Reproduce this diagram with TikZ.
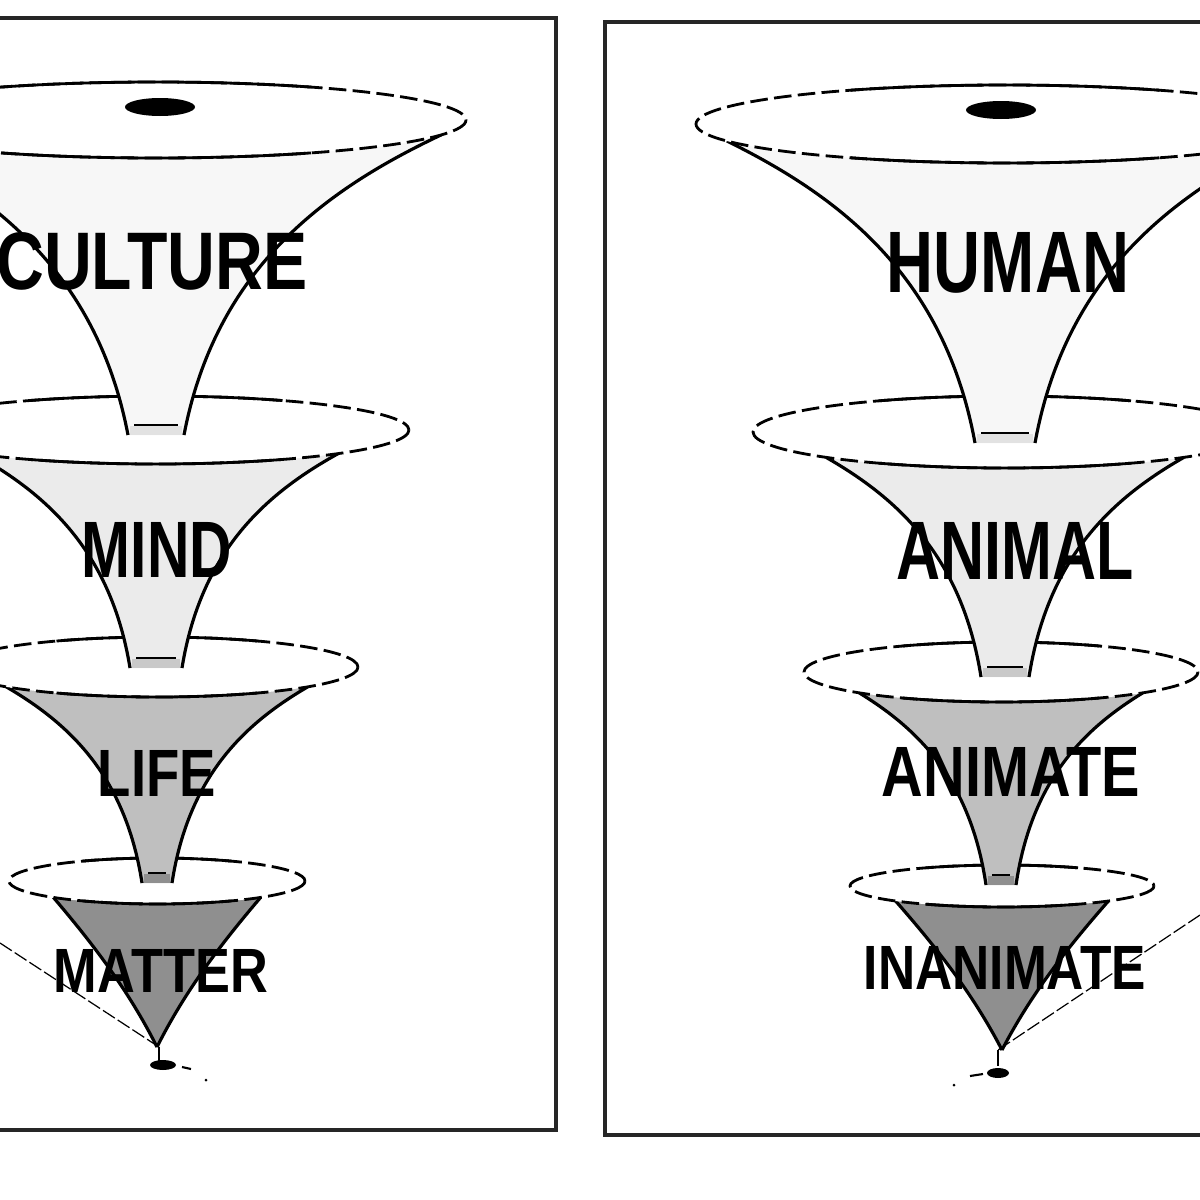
\documentclass[tikz,border=0pt]{standalone}
\usepackage{fontspec}
\setmainfont{Liberation Sans}
\definecolor{topgray}{gray}{0.97}
\definecolor{midgray}{gray}{0.92}
\definecolor{lowgray}{gray}{0.75}
\definecolor{basegray}{gray}{0.56}
\definecolor{framegray}{gray}{0.15}
\tikzset{
  rimline/.style={line width=0.8pt, dash pattern=on 5pt off 1.8pt},
  rimsolid/.style={line width=0.8pt},
  coneline/.style={line width=0.9pt, line join=round},
  panel/.style={draw=framegray, line width=1.1pt},
  level/.style={inner sep=0pt, font=\bfseries},
  thinline/.style={line width=0.35pt, dash pattern=on 4pt off 1pt},
  neckband/.style={line width=0.6pt},
}
% cone: cx, cy, rx, ry, top fraction, neck y, neck half width, fill, bend
\newcommand{\cone}[9]{%
  \pgfmathsetmacro{\topx}{#3*#5}%
  \pgfmathsetmacro{\topy}{#2+#4*sqrt(1-#5*#5)}%
  \pgfmathsetmacro{\spanx}{\topx-#7}%
  \pgfmathsetmacro{\spany}{#6-\topy}%
  \pgfmathsetmacro{\cpa}{(0.3333+0.12*#9)*\spanx}%
  \pgfmathsetmacro{\cpb}{(0.3333-0.15*#9)*\spany}%
  \pgfmathsetmacro{\cpc}{(0.3333-0.21*#9)*\spanx}%
  \pgfmathsetmacro{\cpd}{(0.3333+0.22*#9)*\spany}%
  \fill[#8] (#1+\topx,\topy) .. controls (#1+\topx-\cpa,\topy+\cpb) and (#1+#7+\cpc,#6-\cpd) .. (#1+#7,#6)
    -- (#1-#7,#6) .. controls (#1-#7-\cpc,#6-\cpd) and (#1-\topx+\cpa,\topy+\cpb) .. (#1-\topx,\topy) -- cycle;
  \draw[coneline] (#1+\topx,\topy) .. controls (#1+\topx-\cpa,\topy+\cpb) and (#1+#7+\cpc,#6-\cpd) .. (#1+#7,#6);
  \draw[coneline] (#1-\topx,\topy) .. controls (#1-\topx+\cpa,\topy+\cpb) and (#1-#7-\cpc,#6-\cpd) .. (#1-#7,#6);
}
% rim: cx, cy, rx, ry
\newcommand{\rim}[4]{%
  \fill[white] (#1,#2) ellipse [x radius=#3, y radius=#4];
  \draw[rimline] (#1,#2) ellipse [x radius=#3, y radius=#4];
  \draw[rimsolid] (#1,#2) ++(240:#3 and #4) arc [start angle=240, end angle=300, x radius=#3, y radius=#4];
  \draw[rimsolid] (#1,#2) ++(60:#3 and #4) arc [start angle=60, end angle=120, x radius=#3, y radius=#4];
}
% neck band: cx, neck y, neck half width, fill
\newcommand{\neck}[4]{%
  \fill[#4] (#1-#3+2,#2-9) rectangle (#1+#3-2,#2);
  \draw[neckband] (#1-#3+6,#2-10) -- (#1+#3-6,#2-10);
}
\begin{document}
\begin{tikzpicture}[x=0.01cm,y=-0.01cm]
\useasboundingbox (0,0) rectangle (1200,1200);
\clip (0,0) rectangle (1200,1200);
% Panels
\draw[panel] (-20,18) rectangle (556,1130);
\draw[panel] (605,22) rectangle (1230,1135);
% Left stack, bottom to top
\cone{157}{881}{148}{23}{0.70}{1047}{0}{basegray}{0.25}
\rim{157}{881}{148}{23}
\cone{157}{667}{201}{30}{0.75}{883}{15}{lowgray}{1}
\neck{157}{883}{15}{basegray}
\rim{157}{667}{201}{30}
\cone{156}{430}{253}{34}{0.72}{668}{26}{midgray}{1}
\neck{156}{668}{26}{lowgray!85}
\rim{156}{430}{253}{34}
\cone{156}{120}{310}{38}{0.92}{435}{28}{topgray}{1}
\neck{156}{435}{28}{midgray!80!lowgray}
\rim{156}{120}{310}{38}
\fill (160,107) ellipse [x radius=35, y radius=9];
% Left tip
\coordinate (mattertip) at (159,1047);
\draw[thinline] (0,943) -- (mattertip);
\draw[line width=0.6pt] (mattertip) -- ++(0,14);
\fill (163,1065) ellipse [x radius=13, y radius=5];
\draw[line width=0.6pt] (182,1067) -- (191,1069);
\fill (206,1080) circle (1.5);
% Right stack, bottom to top
\cone{1002}{886}{152}{21}{0.70}{1050}{0}{basegray}{0.25}
\rim{1002}{886}{152}{21}
\cone{1001}{672}{197}{30}{0.72}{885}{15}{lowgray}{1}
\neck{1001}{885}{15}{basegray}
\rim{1001}{672}{197}{30}
\cone{1005}{432}{252}{36}{0.71}{677}{24}{midgray}{1}
\neck{1005}{677}{24}{lowgray!85}
\rim{1005}{432}{252}{36}
\cone{1005}{124}{309}{39}{0.90}{443}{30}{topgray}{1}
\neck{1005}{443}{30}{midgray!80!lowgray}
\rim{1005}{124}{309}{39}
\fill (1001,110) ellipse [x radius=35, y radius=9];
% Right tip
\coordinate (inanimatetip) at (998,1050);
\draw[thinline] (1200,915) -- (inanimatetip);
\draw[line width=0.6pt] (inanimatetip) -- ++(0,16);
\fill (998,1073) ellipse [x radius=11, y radius=5];
\draw[line width=0.6pt] (970,1076) -- (983,1074);
\fill (954,1085) circle (1.5);
% Labels
\node[level] (culture) at (152,261) {\resizebox{3.11cm}{0.57cm}{CULTURE}};
\node[level] (mind) at (157,550) {\resizebox{1.50cm}{0.55cm}{MIND}};
\node[level] (life) at (157,773) {\resizebox{1.18cm}{0.46cm}{LIFE}};
\node[level] (matter) at (161,971) {\resizebox{2.14cm}{0.43cm}{MATTER}};
\node[level] (human) at (1008,263) {\resizebox{2.42cm}{0.60cm}{HUMAN}};
\node[level] (animal) at (1015,551) {\resizebox{2.37cm}{0.57cm}{ANIMAL}};
\node[level] (animate) at (1011,772) {\resizebox{2.58cm}{0.49cm}{ANIMATE}};
\node[level] (inanimate) at (1005,968) {\resizebox{2.82cm}{0.43cm}{INANIMATE}};
\end{tikzpicture}
\end{document}
